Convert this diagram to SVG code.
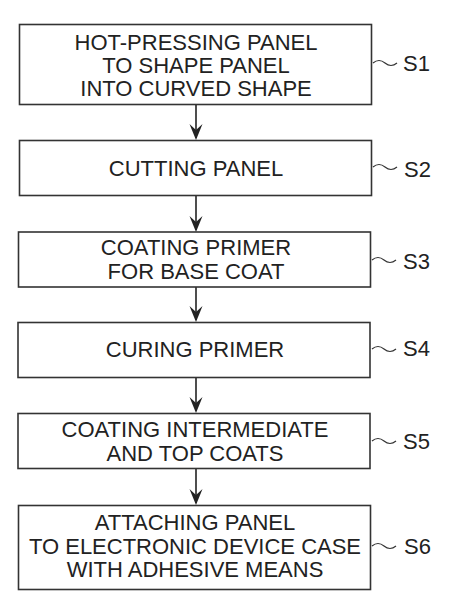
<svg xmlns="http://www.w3.org/2000/svg" width="474" height="614" viewBox="0 0 474 614">
<style>
.box{fill:#fff;stroke:#333;stroke-width:1.6}
.t{font-family:"Liberation Sans",Arial,sans-serif;font-size:22px;fill:#222;text-anchor:middle}
.l{font-family:"Liberation Sans",Arial,sans-serif;font-size:22px;fill:#222}
.conn{stroke:#222;stroke-width:1.6;fill:none}
.tilde{stroke:#333;stroke-width:1.2;fill:none}
</style>
<defs>
<path id="ah" d="M-6.5,-16 L0,-10 L6.5,-16 L0,0 Z" fill="#222"/>
</defs>
<rect width="474" height="614" fill="#fff"/>
<g id="connectors">
<line class="conn" x1="196" y1="104" x2="196" y2="138"/>
<line class="conn" x1="196" y1="195" x2="196" y2="230"/>
<line class="conn" x1="196" y1="287" x2="196" y2="320"/>
<line class="conn" x1="196" y1="377" x2="196" y2="411"/>
<line class="conn" x1="196" y1="469" x2="196" y2="503"/>
<use href="#ah" x="196" y="140"/>
<use href="#ah" x="196" y="232"/>
<use href="#ah" x="196" y="322"/>
<use href="#ah" x="196" y="413"/>
<use href="#ah" x="196" y="505"/>
</g>
<g id="s1">
<rect class="box" x="19.5" y="24.5" width="352" height="80"/>
<text class="t" x="196" y="50">HOT-PRESSING PANEL</text>
<text class="t" x="196" y="73">TO SHAPE PANEL</text>
<text class="t" x="196" y="96">INTO CURVED SHAPE</text>
<path class="tilde" d="M373,63 q6,-5 12,0 t12,0"/>
<text class="l" x="403" y="71">S1</text>
</g>
<g id="s2">
<rect class="box" x="19.5" y="140.5" width="352" height="55"/>
<text class="t" x="196" y="176">CUTTING PANEL</text>
<path class="tilde" d="M373,167 q6,-5 12,0 t12,0"/>
<text class="l" x="404" y="177">S2</text>
</g>
<g id="s3">
<rect class="box" x="18.5" y="232" width="352" height="55"/>
<text class="t" x="196" y="255">COATING PRIMER</text>
<text class="t" x="196" y="279">FOR BASE COAT</text>
<path class="tilde" d="M372,260 q6,-5 12,0 t12,0"/>
<text class="l" x="403" y="269">S3</text>
</g>
<g id="s4">
<rect class="box" x="18" y="322.5" width="352" height="55"/>
<text class="t" x="195" y="357">CURING PRIMER</text>
<path class="tilde" d="M372,349 q6,-5 12,0 t12,0"/>
<text class="l" x="403" y="356">S4</text>
</g>
<g id="s5">
<rect class="box" x="18" y="413.5" width="352" height="55"/>
<text class="t" x="195" y="437">COATING INTERMEDIATE</text>
<text class="t" x="195" y="461">AND TOP COATS</text>
<path class="tilde" d="M372,441 q6,-5 12,0 t12,0"/>
<text class="l" x="403" y="449">S5</text>
</g>
<g id="s6">
<rect class="box" x="18.5" y="505.5" width="352" height="84"/>
<text class="t" x="195" y="530">ATTACHING PANEL</text>
<text class="t" x="195" y="554">TO ELECTRONIC DEVICE CASE</text>
<text class="t" x="195" y="577">WITH ADHESIVE MEANS</text>
<path class="tilde" d="M372,546 q6,-5 12,0 t12,0"/>
<text class="l" x="404" y="554">S6</text>
</g>
</svg>
